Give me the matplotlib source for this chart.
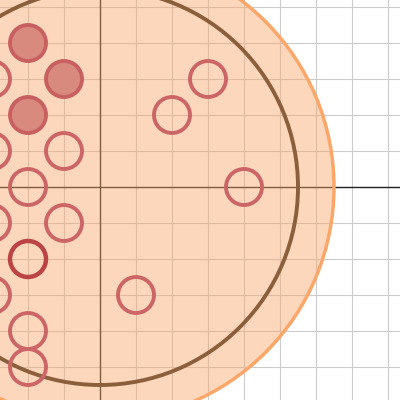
import matplotlib.pyplot as plt
import matplotlib.patches as patches

# circle centres in graph units
open_x = [-3, 2, 3, -1, -3, -2, 4, -1, -3, 1, -3, -2, -2]
open_y = [3, 2, 3, 1, 1, 0, 0, -1, -1, -3, -3, -4, -5]
filled_x = [-2, -1, -2]
filled_y = [4, 3, 2]
bold_x = [-2]
bold_y = [-2]
small_r = 0.5
inner_r = 5.5
outer_r = 6.5

fig = plt.figure(figsize=(4, 4), dpi=100)
ax = fig.add_axes([0, 0, 1, 1])
u = 1 / 36
ax.set_xlim(-100 * u, 300 * u)
ax.set_ylim(-213 * u, 187 * u)
ax.set_aspect('equal')
ax.axis('off')

# grid
for i in range(-3, 9):
    ax.axvline(i, color='#cccccc', lw=0.8, zorder=0)
for j in range(-6, 6):
    ax.axhline(j, color='#cccccc', lw=0.8, zorder=0)
ax.axvline(0, color='#222222', lw=1.0, zorder=0)
ax.axhline(0, color='#222222', lw=1.0, zorder=0)

ax.add_patch(patches.Circle((0, 0), outer_r, facecolor='#fba76a', alpha=0.45,
                            edgecolor='none', zorder=1))
ax.add_patch(patches.Circle((0, 0), outer_r, facecolor='none',
                            edgecolor='#fba76a', lw=2.5, zorder=1))
ax.add_patch(patches.Circle((0, 0), inner_r, facecolor='none',
                            edgecolor='#8b5e3c', lw=2.8, zorder=2))

for x, y in zip(open_x, open_y):
    ax.add_patch(patches.Circle((x, y), small_r, facecolor='none',
                                edgecolor='#cc6666', lw=2.8, zorder=3))
for x, y in zip(filled_x, filled_y):
    ax.add_patch(patches.Circle((x, y), small_r, facecolor='#d98a7e',
                                edgecolor='#c86060', lw=2.8, zorder=3))
for x, y in zip(bold_x, bold_y):
    ax.add_patch(patches.Circle((x, y), small_r, facecolor='none',
                                edgecolor='#bb4444', lw=3.2, zorder=3))

fig.savefig('out.png', dpi=100)
